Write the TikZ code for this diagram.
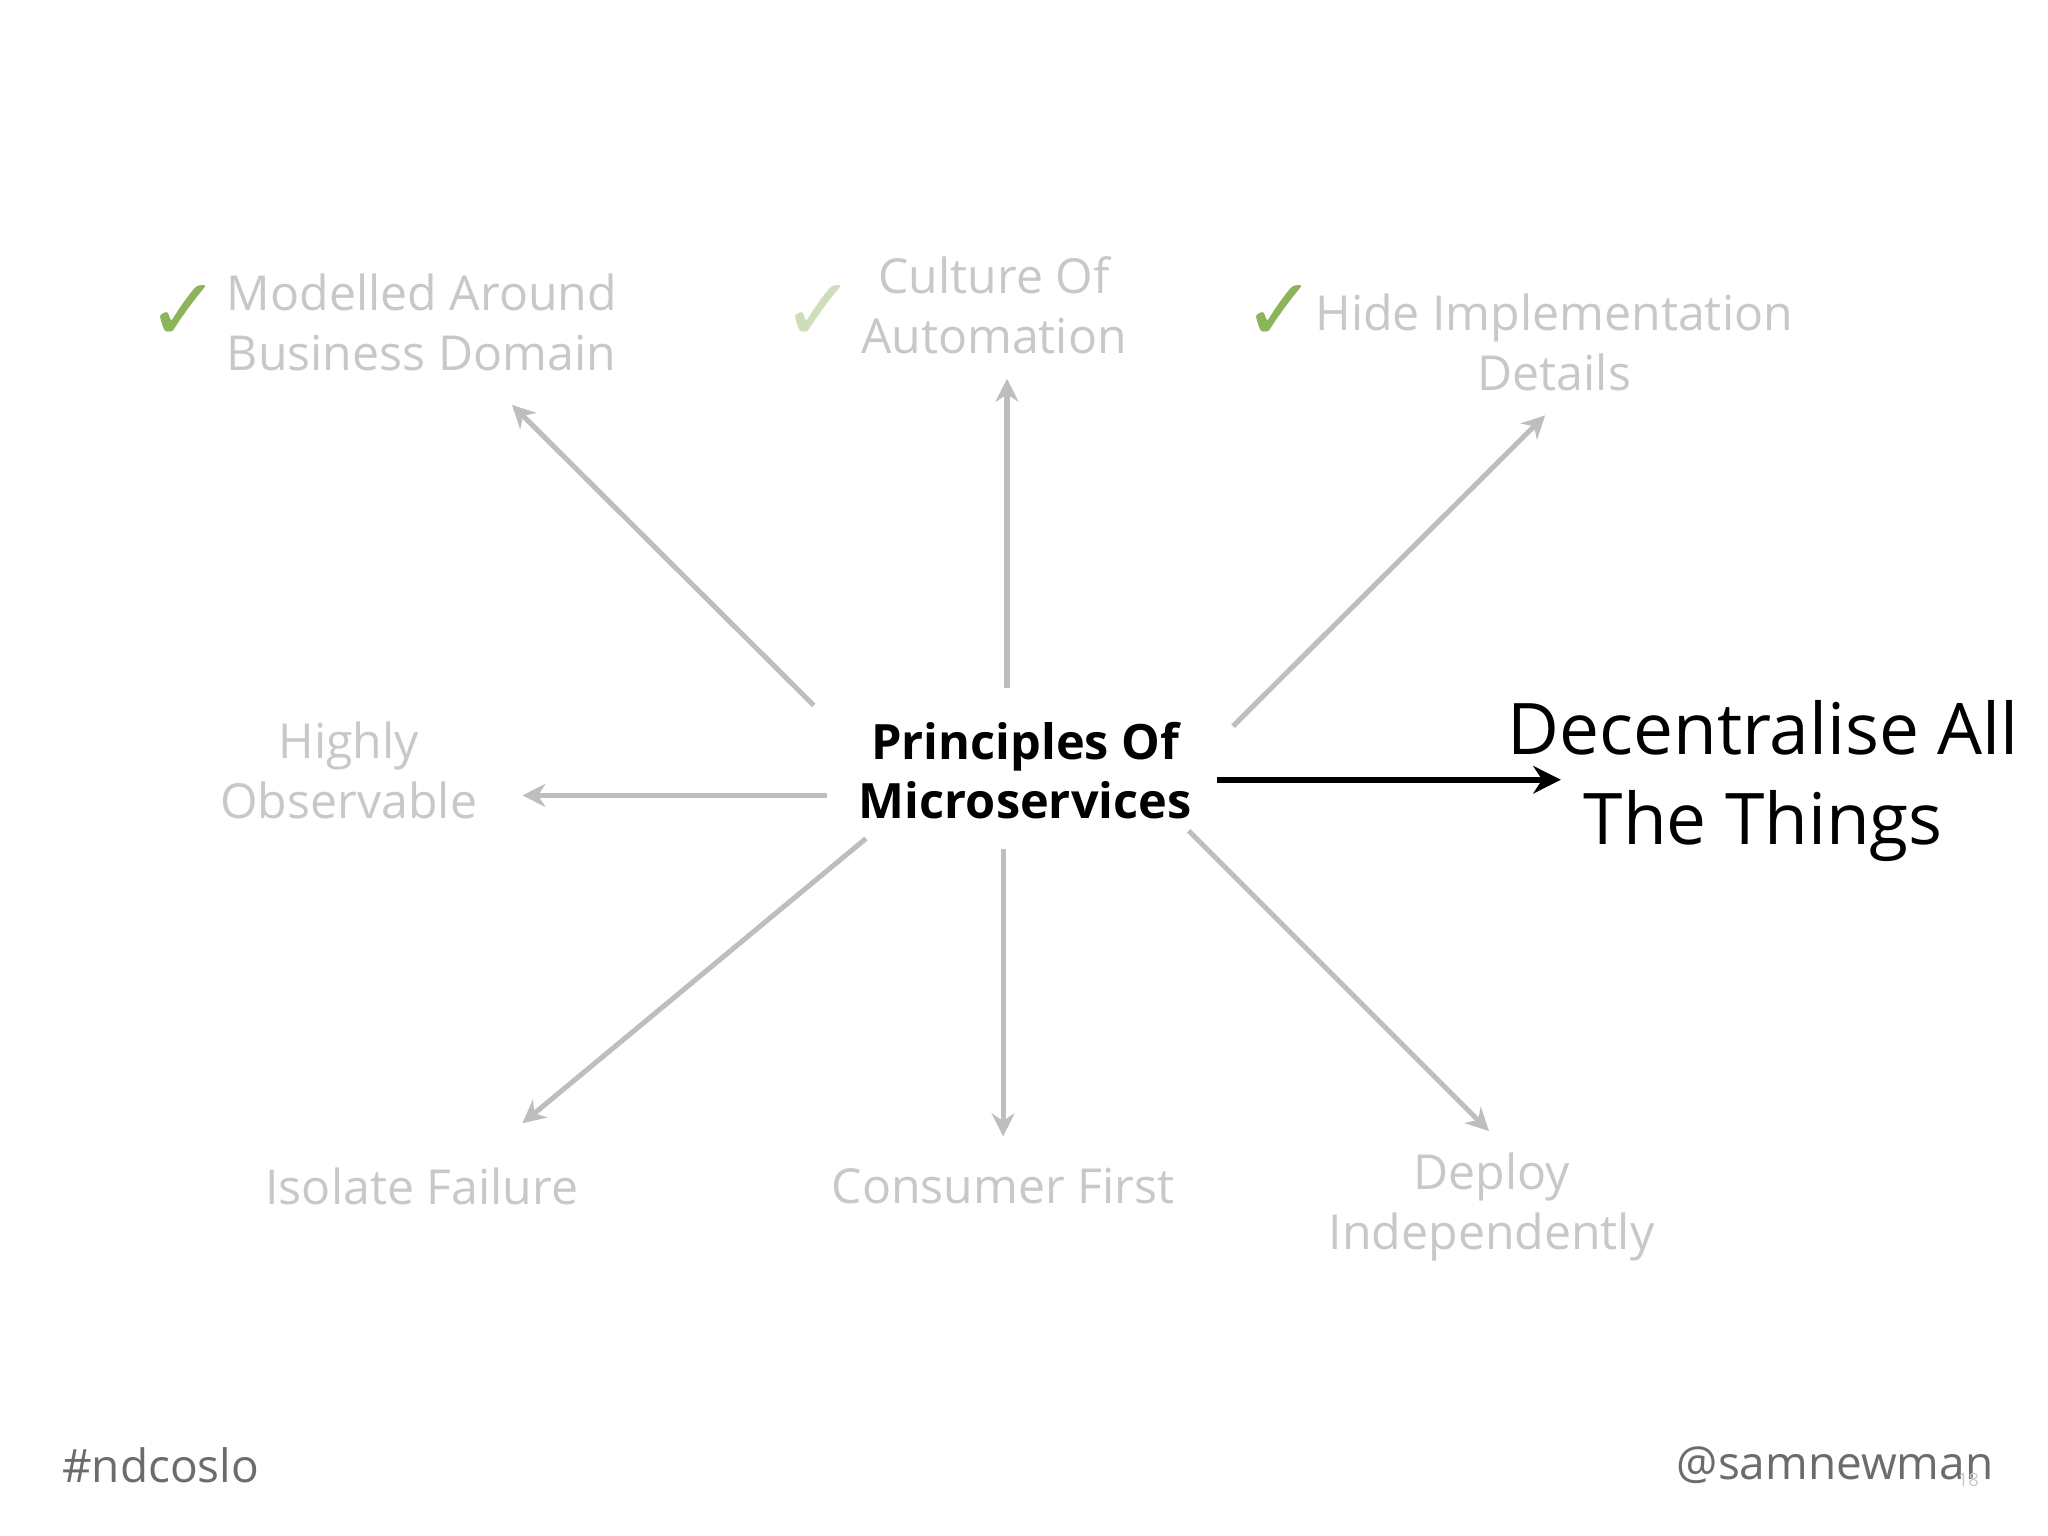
\documentclass[tikz,border=0pt]{standalone}
\usepackage{fontspec}
\setmainfont{Open Sans}
\newfontfamily\dv{DejaVu Sans}
\usetikzlibrary{arrows.meta}
\definecolor{lg}{RGB}{190,190,190}
\definecolor{tg}{RGB}{200,200,200}
\definecolor{gr}{RGB}{140,180,90}
\definecolor{lgr}{RGB}{205,222,185}
\begin{document}
\begin{tikzpicture}[x=0.01cm,y=-0.01cm,
  lbl/.style={text=tg,font=\fontsize{10.5pt}{13pt}\selectfont,align=center,inner sep=0},
  arr/.style={draw=lg,line width=1.1pt,-{Stealth[length=5pt,width=5pt]}},
  chk/.style={font=\dv\bfseries\fontsize{19pt}{19pt}\selectfont,inner sep=0}]
\useasboundingbox[fill=white] (0,0) rectangle (1568,1176);
\node[lbl,align=left] (mod) at (323,247) {Modelled Around\\Business Domain};
\node[chk,text=gr] (c1) at (141,240) {✓};
\node[lbl] (cul) at (761,234) {Culture Of\\Automation};
\node[chk,text=lgr] (c2) at (627,240) {✓};
\node[lbl] (hid) at (1190,262) {Hide Implementation\\Details};
\node[chk,text=gr] (c3) at (980,240) {✓};
\node[lbl] (obs) at (267,590) {Highly\\Observable};
\node[font=\bfseries\fontsize{10.6pt}{13pt}\selectfont,align=center,inner sep=0] (pr) at (785,590) {Principles Of\\Microservices};
\node[font=\fontsize{15.5pt}{19.5pt}\selectfont,align=center,inner sep=0] (dec) at (1350,598) {Decentralise All\\The Things};
\node[lbl] (iso) at (323,908) {Isolate Failure};
\node[lbl] (con) at (768,908) {Consumer First};
\node[lbl] (dep) at (1142,924) {Deploy\\Independently};
\node[text=gray!85!black,font=\fontsize{10pt}{12pt}\selectfont,inner sep=0] (tag) at (123,1122) {\#ndcoslo};
\node[text=gray!85!black,font=\fontsize{10pt}{12pt}\selectfont,inner sep=0] (sam) at (1405,1122) {@samnewman};
\node[text=tg,font=\fontsize{4pt}{5pt}\selectfont,inner sep=0] (num) at (1507,1133) {18};
\coordinate (a1s) at (623,540); \coordinate (a1e) at (392,310);
\coordinate (a2s) at (771,527); \coordinate (a2e) at (771,290);
\coordinate (a3s) at (944,556); \coordinate (a3e) at (1183,318);
\coordinate (a4s) at (633,609); \coordinate (a4e) at (400,609);
\coordinate (a5s) at (663,642); \coordinate (a5e) at (400,860);
\coordinate (a6s) at (768,650); \coordinate (a6e) at (768,870);
\coordinate (a7s) at (910,636); \coordinate (a7e) at (1140,866);
\coordinate (a8s) at (932,597); \coordinate (a8e) at (1195,597);
\foreach \i in {1,...,7} \draw[arr] (a\i s) -- (a\i e);
\draw[line width=1.3pt,-{Stealth[length=6pt,width=6pt]}] (a8s) -- (a8e);
\end{tikzpicture}
\end{document}
